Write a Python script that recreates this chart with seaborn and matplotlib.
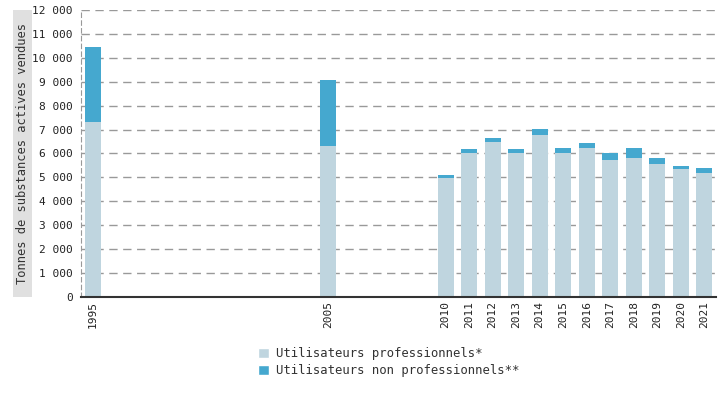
import numpy as np
import pandas as pd
import matplotlib
matplotlib.use("Agg")
import matplotlib.pyplot as plt
import seaborn as sns
from matplotlib.patches import Rectangle, Patch
from matplotlib.ticker import FuncFormatter

# Data (tonnes of active substances sold)
years = [1995, 2005, 2010, 2011, 2012, 2013, 2014, 2015, 2016, 2017, 2018, 2019, 2020, 2021]
pro = [7320, 6310, 4970, 6010, 6470, 6010, 6770, 6010, 6220, 5720, 5820, 5560, 5350, 5180]
non_pro = [3130, 2760, 130, 170, 170, 170, 250, 210, 210, 290, 400, 260, 130, 210]

labels = ["Utilisateurs professionnels*", "Utilisateurs non professionnels**"]
col_pro = "#bfd5df"
col_non = "#45a8cf"

df = pd.DataFrame({"annee": years, "pro": pro, "non_pro": non_pro})
df["total"] = df["pro"] + df["non_pro"]

sns.set_style("white")
plt.rcParams["font.family"] = ["DejaVu Sans Mono"]

fig = plt.figure(figsize=(7.25, 4), dpi=100)
ax = fig.add_axes([81 / 725, 103 / 400, (716 - 81) / 725, 287 / 400])

# stacked bars: total first, professional part on top of it
sns.barplot(data=df, x="annee", y="total", native_scale=True, width=0.68,
            color=col_non, saturation=1, linewidth=0, ax=ax, zorder=3)
sns.barplot(data=df, x="annee", y="pro", native_scale=True, width=0.68,
            color=col_pro, saturation=1, linewidth=0, ax=ax, zorder=3)

ax.set_xlim(1994.5, 2021.5)
ax.set_ylim(0, 12000)
ax.set_yticks(np.arange(0, 12001, 1000))
ax.yaxis.set_major_formatter(FuncFormatter(lambda v, p: f"{v:,.0f}".replace(",", " ")))
ax.grid(axis="y", color="#999999", linestyle=(0, (6, 4)), linewidth=1, zorder=0)
ax.set_axisbelow(True)

ax.set_xticks(years)
ax.set_xticklabels([str(y) for y in years], rotation=90)
ax.set_xticks([y - 0.5 for y in years[1:]] + [y + 0.5 for y in years], minor=True)
ax.tick_params(axis="x", which="major", length=0, pad=3, labelsize=8, labelcolor="#222222")
ax.tick_params(axis="x", which="minor", direction="in", length=6, width=1, color="#222222")
ax.tick_params(axis="y", length=4, color="#aaaaaa", labelsize=8, labelcolor="#222222", pad=2)
ax.set_xlabel("")
ax.set_ylabel("")

for s in ["top", "right"]:
    ax.spines[s].set_visible(False)
ax.spines["left"].set_color("#999999")
ax.spines["left"].set_linestyle((0, (4, 3)))
ax.spines["left"].set_linewidth(0.8)
ax.spines["bottom"].set_color("#333333")
ax.spines["bottom"].set_linewidth(1.5)
ax.spines["bottom"].set_zorder(4)

# y label with grey band
fig.patches.append(Rectangle((13 / 725, 103 / 400), 19 / 725, 287 / 400,
                             transform=fig.transFigure, facecolor="#e0e0e0",
                             edgecolor="none", zorder=0))
fig.text(22.5 / 725, (103 + 287 / 2) / 400, "Tonnes de substances actives vendues",
         rotation=90, ha="center", va="center", fontsize=8.7, color="#333333")

handles = [Patch(facecolor=col_pro, label=labels[0]), Patch(facecolor=col_non, label=labels[1])]
fig.legend(handles=handles, loc="upper left", bbox_to_anchor=(247 / 725, 1 - 336 / 400),
           frameon=False, fontsize=8.8, handlelength=0.9, handleheight=0.9,
           handletextpad=0.6, labelspacing=0.35, labelcolor="#333333")

fig.savefig("out.png", dpi=100)
